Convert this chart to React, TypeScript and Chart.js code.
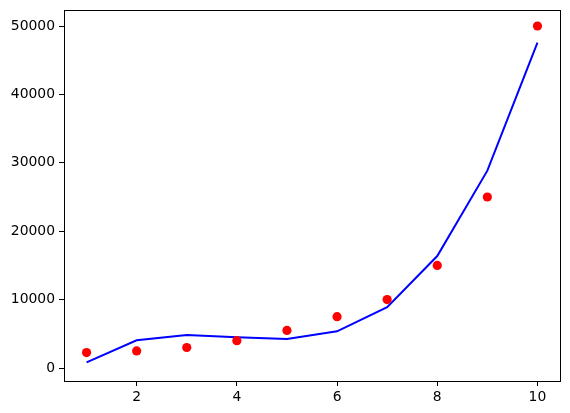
import React, { useEffect, useRef } from "react";
import { Chart, registerables } from "chart.js";

Chart.register(...registerables);

const levels = [1, 2, 3, 4, 5, 6, 7, 8, 9, 10];
const actual = [2250, 2500, 3000, 4000, 5500, 7500, 10000, 15000, 25000, 50000];
const fitted = [830, 4050, 4820, 4480, 4240, 5360, 8900, 16370, 28850, 47560];
const xTicks = [2, 4, 6, 8, 10];
const yTicks = [0, 10000, 20000, 30000, 40000, 50000];

const frame = {
  id: "frame",
  afterDraw(chart: any) {
    const { ctx, chartArea } = chart;
    ctx.save();
    ctx.strokeStyle = "#000";
    ctx.lineWidth = 1;
    ctx.strokeRect(
      Math.round(chartArea.left) + 0.5,
      Math.round(chartArea.top) + 0.5,
      Math.round(chartArea.right - chartArea.left),
      Math.round(chartArea.bottom - chartArea.top)
    );
    ctx.restore();
  },
};

const App = () => {
  const canvasRef = useRef<HTMLCanvasElement>(null);

  useEffect(() => {
    document.body.style.margin = "0";
    if (!canvasRef.current) return;
    const ctx = canvasRef.current.getContext("2d") as CanvasRenderingContext2D;
    const font = { family: "DejaVu Sans", size: 13.9 };
    const chart = new Chart(ctx, {
      type: "scatter",
      data: {
        datasets: [
          {
            data: levels.map((x, i) => ({ x, y: actual[i] })),
            backgroundColor: "#ff0000",
            borderColor: "#ff0000",
            pointRadius: 4.6,
            pointBorderWidth: 0,
            showLine: false,
            order: 1,
          },
          {
            data: levels.map((x, i) => ({ x, y: fitted[i] })),
            borderColor: "#0000ff",
            borderWidth: 2,
            pointRadius: 0,
            showLine: true,
            order: 2,
          },
        ],
      },
      options: {
        animation: false,
        responsive: false,
        layout: { padding: { top: 10, right: 10, left: 0, bottom: 0 } },
        plugins: { legend: { display: false }, tooltip: { enabled: false } },
        scales: {
          x: {
            type: "linear",
            min: 0.55,
            max: 10.45,
            afterBuildTicks: (scale: any) => {
              scale.ticks = xTicks.map((value) => ({ value }));
            },
            afterFit: (scale: any) => {
              scale.height = 32;
              scale.paddingLeft = 0;
              scale.paddingRight = 0;
            },
            grid: { drawOnChartArea: false, drawTicks: true, tickLength: 5, color: "#000" },
            border: { display: false },
            ticks: { color: "#000", font, padding: 3, maxRotation: 0 },
          },
          y: {
            type: "linear",
            min: -1900,
            max: 52340,
            afterBuildTicks: (scale: any) => {
              scale.ticks = yTicks.map((value) => ({ value }));
            },
            afterFit: (scale: any) => {
              scale.width = 64;
              scale.paddingTop = 0;
              scale.paddingBottom = 0;
            },
            grid: { drawOnChartArea: false, drawTicks: true, tickLength: 5, color: "#000" },
            border: { display: false },
            ticks: { color: "#000", font, padding: 4, callback: (v: any) => String(v) },
          },
        },
      },
      plugins: [frame],
    });

    return () => {
      chart.destroy();
    };
  }, []);

  return (
    <div style={{ width: "570px", height: "413px", background: "#fff" }}>
      <canvas ref={canvasRef} width={570} height={413} />
    </div>
  );
};

export default App;
